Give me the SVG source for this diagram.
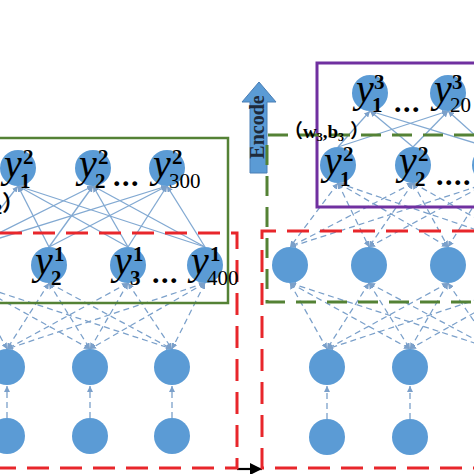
<svg xmlns="http://www.w3.org/2000/svg" width="474" height="474" viewBox="0 0 474 474">
<style>
.n{fill:#5B9BD5}
.y{font-family:"Liberation Serif",serif;font-style:italic;font-size:40px;fill:#000}
.s{font-family:"Liberation Serif",serif;font-size:21px;font-weight:bold;fill:#000}
.m{font-family:"Liberation Serif",serif;font-size:21px;fill:#000}
.d{font-family:"Liberation Serif",serif;font-weight:bold;font-size:30px;fill:#000;letter-spacing:1.5px}
.sol{stroke:#82A9D2;stroke-width:1.3;fill:none;marker-end:url(#ah)}
.das{stroke:#7BA0CA;stroke-width:1.25;fill:none;stroke-dasharray:6 4;marker-start:url(#ah);marker-end:url(#ah)}
.up{stroke:#7BA0CA;stroke-width:1.3;fill:none;stroke-dasharray:6 4;marker-end:url(#ah)}
.red{stroke:#E8262B;stroke-width:3;fill:none;stroke-dasharray:22 11}
.gd{stroke:#548235;stroke-width:3;fill:none;stroke-dasharray:20 11}
.lab{font-family:"Liberation Serif","Noto Sans CJK SC",serif;font-weight:bold;fill:#000}
</style>
<defs>
<marker id="ah" viewBox="0 0 6 6" refX="6" refY="3" markerWidth="6" markerHeight="6" markerUnits="userSpaceOnUse" orient="auto-start-reverse">
<path d="M0,0 L6,3 L0,6 z" fill="#7BA0CA"/>
</marker>
<marker id="bk" viewBox="0 0 10 10" refX="10" refY="5" markerWidth="12" markerHeight="12" markerUnits="userSpaceOnUse" orient="auto">
<path d="M0,0 L10,5 L0,10 z" fill="#000"/>
</marker>
</defs>
<rect width="474" height="474" fill="#fff"/>

<g id="connectors">
<line class="sol" x1="-29" y1="247" x2="18" y2="186"/>
<line class="sol" x1="-29" y1="247" x2="93" y2="186"/>
<line class="sol" x1="-29" y1="247" x2="167" y2="186"/>
<line class="sol" x1="49" y1="247" x2="18" y2="186"/>
<line class="sol" x1="49" y1="247" x2="93" y2="186"/>
<line class="sol" x1="49" y1="247" x2="167" y2="186"/>
<line class="sol" x1="128" y1="247" x2="18" y2="186"/>
<line class="sol" x1="128" y1="247" x2="93" y2="186"/>
<line class="sol" x1="128" y1="247" x2="167" y2="186"/>
<line class="sol" x1="205" y1="247" x2="18" y2="186"/>
<line class="sol" x1="205" y1="247" x2="93" y2="186"/>
<line class="sol" x1="205" y1="247" x2="167" y2="186"/>
<line class="das" x1="-29" y1="283" x2="7" y2="349"/>
<line class="das" x1="-29" y1="283" x2="90" y2="349"/>
<line class="das" x1="-29" y1="283" x2="172" y2="349"/>
<line class="das" x1="49" y1="283" x2="7" y2="349"/>
<line class="das" x1="49" y1="283" x2="90" y2="349"/>
<line class="das" x1="49" y1="283" x2="172" y2="349"/>
<line class="das" x1="128" y1="283" x2="7" y2="349"/>
<line class="das" x1="128" y1="283" x2="90" y2="349"/>
<line class="das" x1="128" y1="283" x2="172" y2="349"/>
<line class="das" x1="205" y1="283" x2="7" y2="349"/>
<line class="das" x1="205" y1="283" x2="90" y2="349"/>
<line class="das" x1="205" y1="283" x2="172" y2="349"/>
<line class="up" x1="7" y1="418" x2="7" y2="386"/>
<line class="up" x1="90" y1="418" x2="90" y2="386"/>
<line class="up" x1="172" y1="418" x2="172" y2="386"/>
<line class="sol" x1="338" y1="147" x2="370" y2="111"/>
<line class="sol" x1="338" y1="147" x2="448" y2="111"/>
<line class="sol" x1="413" y1="147" x2="370" y2="111"/>
<line class="sol" x1="413" y1="147" x2="448" y2="111"/>
<line class="sol" x1="488" y1="147" x2="370" y2="111"/>
<line class="sol" x1="488" y1="147" x2="448" y2="111"/>
<line class="das" x1="338" y1="183" x2="290" y2="247"/>
<line class="das" x1="338" y1="183" x2="369" y2="247"/>
<line class="das" x1="338" y1="183" x2="448" y2="247"/>
<line class="das" x1="338" y1="183" x2="527" y2="247"/>
<line class="das" x1="413" y1="183" x2="290" y2="247"/>
<line class="das" x1="413" y1="183" x2="369" y2="247"/>
<line class="das" x1="413" y1="183" x2="448" y2="247"/>
<line class="das" x1="413" y1="183" x2="527" y2="247"/>
<line class="das" x1="488" y1="183" x2="290" y2="247"/>
<line class="das" x1="488" y1="183" x2="369" y2="247"/>
<line class="das" x1="488" y1="183" x2="448" y2="247"/>
<line class="das" x1="290" y1="283" x2="327" y2="349"/>
<line class="das" x1="290" y1="283" x2="410" y2="349"/>
<line class="das" x1="290" y1="283" x2="493" y2="349"/>
<line class="das" x1="369" y1="283" x2="327" y2="349"/>
<line class="das" x1="369" y1="283" x2="410" y2="349"/>
<line class="das" x1="369" y1="283" x2="493" y2="349"/>
<line class="das" x1="448" y1="283" x2="327" y2="349"/>
<line class="das" x1="448" y1="283" x2="410" y2="349"/>
<line class="das" x1="448" y1="283" x2="493" y2="349"/>
<line class="das" x1="527" y1="283" x2="327" y2="349"/>
<line class="das" x1="527" y1="283" x2="410" y2="349"/>
<line class="up" x1="327" y1="419" x2="327" y2="386"/>
<line class="up" x1="410" y1="419" x2="410" y2="386"/>
<line x1="237" y1="469" x2="262" y2="469" stroke="#000" stroke-width="2.2" marker-end="url(#bk)"/>
</g>

<g id="frames">
<path d="M0,138 H228 V303 H0" fill="none" stroke="#548235" stroke-width="2.5"/>
<path class="red" d="M0,233 H237 V468 H0"/>
<path class="red" d="M474,231 H262 V468 H474"/>
<path d="M474,63 H317 V207 H474" fill="none" stroke="#7030A0" stroke-width="3"/>
</g>

<g id="encode">
<polygon points="259,82 276,102 267,102 267,173 250,173 250,102 242,102" fill="#5B9BD5" stroke="#4A7EB5" stroke-width="1"/>
<text transform="translate(264,127) rotate(-90)" text-anchor="middle" font-family="Liberation Serif,serif" font-weight="bold" font-size="20" fill="#1E2A3A">Encode</text>
</g>

<path id="green-dashed" class="gd" d="M474,135 H267 V302 H474"/>

<g id="y2_1"><circle class="n" cx="18" cy="168" r="18"/><text class="y" x="4" y="177">y</text><text class="s" x="23" y="164">2</text><text class="s" x="20" y="188">1</text></g>
<g id="y2_2"><circle class="n" cx="93" cy="168" r="18"/><text class="y" x="79" y="177">y</text><text class="s" x="98" y="164">2</text><text class="s" x="95" y="188">2</text></g>
<g id="y2_300"><circle class="n" cx="167" cy="168" r="18"/><text class="y" x="153" y="177">y</text><text class="s" x="172" y="164">2</text><text class="m" x="169" y="188">300</text></g>
<text class="d" x="113" y="186">...</text>
<g id="y1_2"><circle class="n" cx="49" cy="265" r="18"/><text class="y" x="35" y="274">y</text><text class="s" x="54" y="261">1</text><text class="s" x="51" y="285">2</text></g>
<g id="y1_3"><circle class="n" cx="128" cy="265" r="18"/><text class="y" x="114" y="274">y</text><text class="s" x="133" y="261">1</text><text class="s" x="130" y="285">3</text></g>
<g id="y1_400"><circle class="n" cx="205" cy="265" r="18"/><text class="y" x="191" y="274">y</text><text class="s" x="210" y="261">1</text><text class="m" x="207" y="285">400</text></g>
<text class="d" x="152" y="283">...</text>
<g id="lx1"><circle class="n" cx="7" cy="367" r="18"/></g>
<g id="lx2"><circle class="n" cx="90" cy="367" r="18"/></g>
<g id="lx3"><circle class="n" cx="172" cy="367" r="18"/></g>
<g id="li1"><circle class="n" cx="7" cy="436" r="18"/></g>
<g id="li2"><circle class="n" cx="90" cy="436" r="18"/></g>
<g id="li3"><circle class="n" cx="172" cy="436" r="18"/></g>
<text id="label-w2" class="lab" x="24" y="210" font-size="22" text-anchor="end">（w<tspan font-size="14" dy="4">2</tspan><tspan dy="-4">,b</tspan><tspan font-size="14" dy="4">2</tspan><tspan dy="-4">）</tspan></text>

<g id="y3_1"><circle class="n" cx="370" cy="93" r="18"/><text class="y" x="356" y="102">y</text><text class="s" x="374" y="89">3</text><text class="s" x="372" y="112">1</text></g>
<g id="y3_20"><circle class="n" cx="448" cy="93" r="18"/><text class="y" x="434" y="102">y</text><text class="s" x="452" y="89">3</text><text class="m" x="450" y="112">20</text></g>
<text class="d" x="394" y="112">...</text>
<g id="r_y2_1"><circle class="n" cx="338" cy="165" r="18"/><text class="y" x="324" y="174">y</text><text class="s" x="343" y="161">2</text><text class="s" x="340" y="186">1</text></g>
<g id="r_y2_2"><circle class="n" cx="413" cy="165" r="18"/><text class="y" x="399" y="174">y</text><text class="s" x="418" y="161">2</text><text class="s" x="415" y="186">2</text></g>
<g id="r_y2_3"><circle class="n" cx="490" cy="165" r="18"/></g>
<text class="d" x="436" y="185">....</text>
<g id="rh1"><circle class="n" cx="290" cy="265" r="18"/></g>
<g id="rh2"><circle class="n" cx="369" cy="265" r="18"/></g>
<g id="rh3"><circle class="n" cx="448" cy="265" r="18"/></g>
<g id="rx1"><circle class="n" cx="327" cy="367" r="18"/></g>
<g id="rx2"><circle class="n" cx="410" cy="367" r="18"/></g>
<g id="ri1"><circle class="n" cx="327" cy="437" r="18"/></g>
<g id="ri2"><circle class="n" cx="410" cy="437" r="18"/></g>
<text id="label-w3" class="lab" x="284" y="138" font-size="19">（w<tspan font-size="12" dy="3">3</tspan><tspan dy="-3">,b</tspan><tspan font-size="12" dy="3">3</tspan><tspan dy="-3" dx="6">）</tspan></text>
</svg>
